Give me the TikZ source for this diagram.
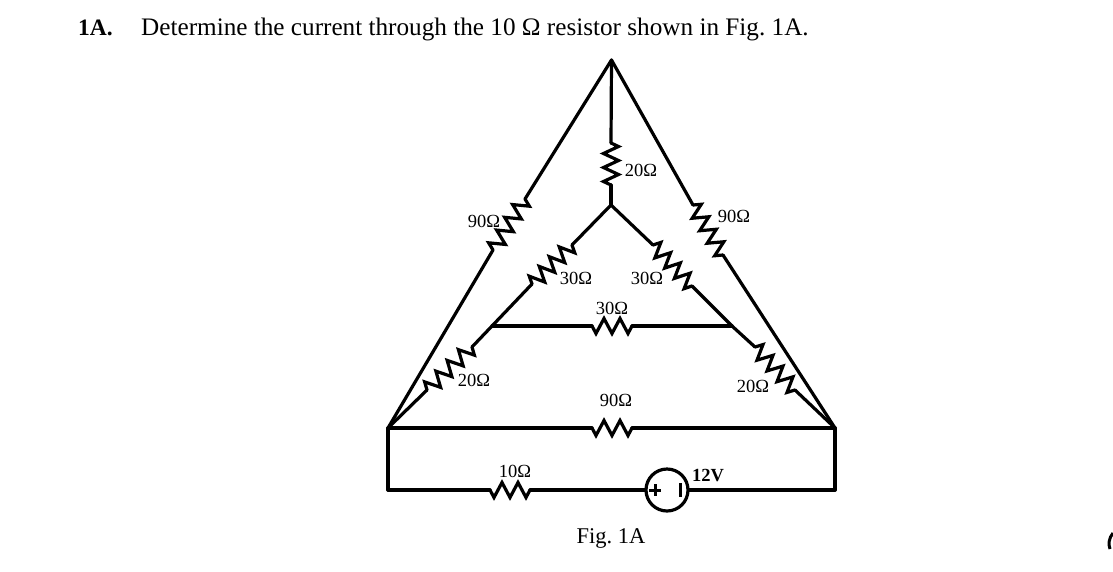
\documentclass[tikz,border=0pt]{standalone}
\usepackage{fontspec}
\setmainfont{Liberation Serif}
\usetikzlibrary{calc}
\frenchspacing
\tikzset{
    wire/.style={line width=3.2pt,line cap=round,line join=miter},
    value/.style={inner sep=0pt,font=\fontsize{18.5}{20}\selectfont},
    heading/.style={inner sep=0pt,anchor=base west,font=\fontsize{25.2}{28}\selectfont}
}
\newcommand{\resist}[3]{
    \draw[wire] (#1) \foreach \i [evaluate=\i as \t using {(\i+.5)/#3}, evaluate=\i as \s using {90-180*mod(\i,2)}] in {0,...,\numexpr#3-1\relax}{
        -- ($(#1)!\t!(#2)!7.5pt!\s:(#2)$)
    } -- (#2);
}

\begin{document}
\begin{tikzpicture}[x=1pt,y=-1pt]
    \useasboundingbox (0,0) rectangle (1113,571);
    \coordinate (top) at (611.5,60);
    \coordinate (mid) at (611,205);
    \coordinate (left) at (388,428);
    \coordinate (right) at (835,428);
    \coordinate (botleft) at (388,490);
    \coordinate (botright) at (835,490);
    \coordinate (innerleft) at (492,326);
    \coordinate (innerright) at (732,326);
    \coordinate (ra1) at (611,143);
    \coordinate (ra2) at (611,185);
    \coordinate (rb1) at (525,199);
    \coordinate (rb2) at (493,250);
    \coordinate (rc1) at (693,205);
    \coordinate (rc2) at (723,255);
    \coordinate (rd1) at (572,245);
    \coordinate (rd2) at (532,284);
    \coordinate (re1) at (653,245);
    \coordinate (re2) at (692,286);
    \coordinate (rf1) at (472,347);
    \coordinate (rf2) at (427,390);
    \coordinate (rg1) at (755,347);
    \coordinate (rg2) at (795,390);
    \coordinate (rh1) at (632,326);
    \coordinate (rh2) at (592,326);
    \coordinate (ri1) at (632,428);
    \coordinate (ri2) at (592,428);
    \coordinate (rj1) at (530,490);
    \coordinate (rj2) at (490,490);
    \node[draw,circle,line width=3.2pt,minimum size=42pt,inner sep=0pt] (source) at (667,490) {};

    \foreach \a/\b/\n in {ra1/ra2/6,rb1/rb2/8,rc1/rc2/8,rd1/rd2/8,re1/re2/8,rf1/rf2/8,rg1/rg2/8,rh1/rh2/5,ri1/ri2/5,rj1/rj2/5}{
        \resist{\a}{\b}{\n}
    }
    \foreach \a/\b in {top/ra1,ra2/mid,top/rb1,rb2/left,top/rc1,rc2/right,mid/rd1,rd2/innerleft,mid/re1,re2/innerright,innerleft/rf1,rf2/left,innerright/rg1,rg2/right,innerleft/rh2,rh1/innerright,left/ri2,ri1/right,botleft/rj2,rj1/source,source/botright,left/botleft,right/botright}{
        \draw[wire] (\a) -- (\b);
    }
    \fill (649,488.5) rectangle (661,491.5);
    \fill (653.5,484) rectangle (656.5,496);
    \fill (678.5,483) rectangle (682,497);

    \node[heading,font=\fontsize{23.5}{26}\selectfont\bfseries] (num) at (78,35) {1A.};
    \node[heading] (question) at (141,35) {Determine the current through the 10 Ω resistor shown in Fig. 1A.};
    \node[value] (v1) at (641,170) {20Ω};
    \node[value] (v2) at (484,221) {90Ω};
    \node[value] (v3) at (734,216) {90Ω};
    \node[value] (v4) at (576,278) {30Ω};
    \node[value] (v5) at (647,278) {30Ω};
    \node[value] (v6) at (612,308) {30Ω};
    \node[value] (v7) at (474,380) {20Ω};
    \node[value] (v8) at (753,386) {20Ω};
    \node[value] (v9) at (616,400) {90Ω};
    \node[value] (v10) at (515,471) {10Ω};
    \node[value,font=\fontsize{18.5}{20}\selectfont\bfseries] (v11) at (708,476) {12V};
    \node[inner sep=0pt,font=\fontsize{22.5}{26}\selectfont] (caption) at (611,538) {Fig. 1A};
    \draw[line width=3pt] (1113,533) .. controls (1109,538) and (1108,544) .. (1110,549);
\end{tikzpicture}
\end{document}
